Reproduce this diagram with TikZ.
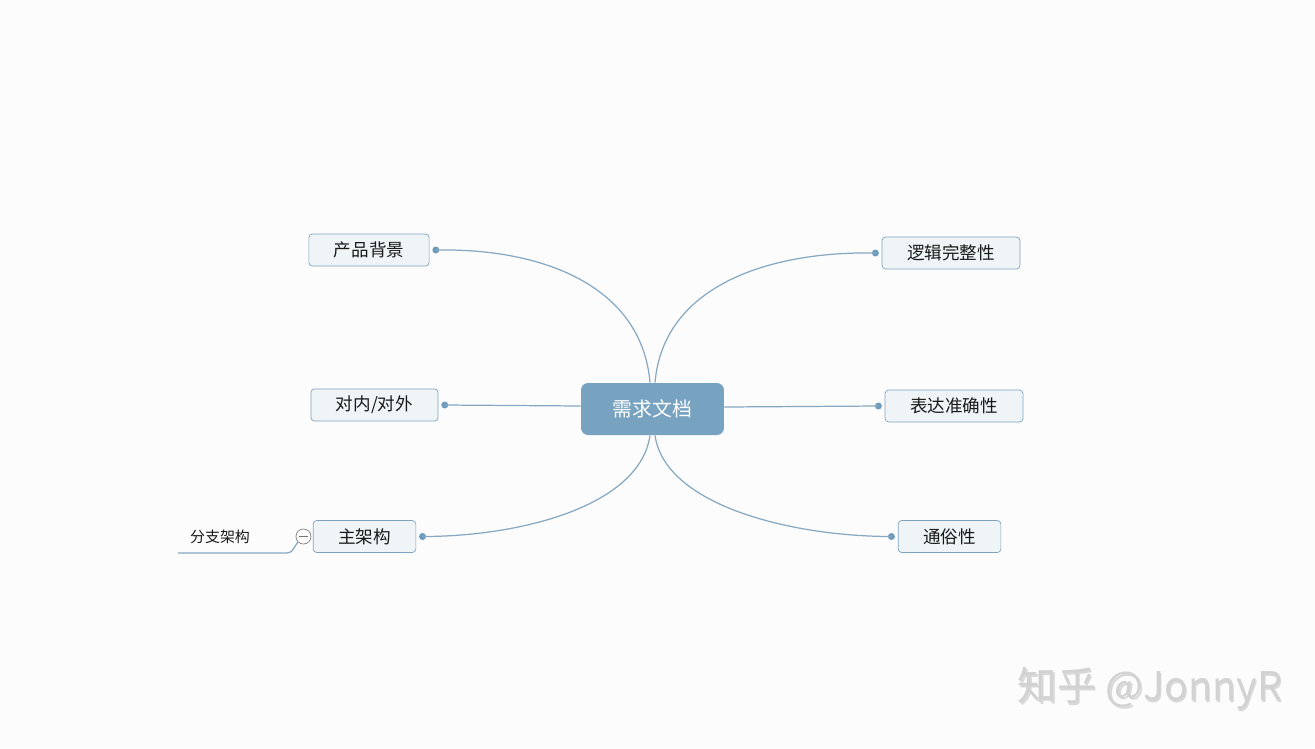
\documentclass[tikz,border=0pt]{standalone}
\usepackage{fontspec}
\setmainfont{Noto Sans CJK SC}
\usepackage{tikz}
\usetikzlibrary{positioning}

\definecolor{bgc}{HTML}{FCFCFC}
\definecolor{linec}{HTML}{86A8C2}
\definecolor{boxline}{HTML}{7FA3BF}
\definecolor{boxfill}{HTML}{EFF4F7}
\definecolor{rootfill}{HTML}{77A2C0}
\definecolor{dotc}{HTML}{6E9BBB}
\definecolor{markc}{HTML}{D2D2D2}

\begin{document}
\begin{tikzpicture}[
  x=0.02cm, y=-0.02cm,
  topic/.style={draw=boxline, fill=boxfill, rounded corners=2pt, inner xsep=0.5cm,
                minimum height=0.64cm, text=black!90, font=\fontsize{10}{12}\selectfont},
  root/.style={fill=rootfill, rounded corners=4pt, minimum width=2.86cm,
               minimum height=1.04cm, text=white, font=\fontsize{11.3}{13}\selectfont},
  dot/.style={circle, fill=dotc, inner sep=0pt, minimum size=0.14cm},
  link/.style={draw=linec, line width=0.7pt}
]
\fill[bgc] (0,0) rectangle (1315,748);

% centre
\node[root] (doc) at (652.5,409) {需求文档};

% left side
\node[topic] (bg) at (369,250) {产品背景};
\node[topic] (io) at (374.5,405) {对内/对外};
\node[topic] (main) at (364.5,536.5) {主架构};
\node[dot, right=0.05cm of bg] (bgd) {};
\node[dot, right=0.05cm of io] (iod) {};
\node[dot, right=0.05cm of main] (maind) {};

% right side
\node[topic] (logic) at (951,253) {逻辑完整性};
\node[topic] (exact) at (954,406) {表达准确性};
\node[topic] (plain) at (949.5,536.5) {通俗性};
\node[dot, left=0.05cm of logic] (logicd) {};
\node[dot, left=0.05cm of exact] (exactd) {};
\node[dot, left=0.05cm of plain] (plaind) {};

\draw[link] ([xshift=-0.05cm]doc.north) .. controls +(-8,-95) and +(110,-2) .. (bgd.center);
\draw[link] ([xshift=0.05cm]doc.north) .. controls +(8,-95) and +(-110,-2) .. (logicd.center);
\draw[link] ([xshift=-0.05cm]doc.south) .. controls +(-10,70) and +(100,0) .. (maind.center);
\draw[link] ([xshift=0.05cm]doc.south) .. controls +(10,70) and +(-100,0) .. (plaind.center);
\draw[link] ([yshift=0.06cm]doc.west) -- (iod.center);
\draw[link] ([yshift=0.04cm]doc.east) -- (exactd.center);

% collapsed branch
\node[circle, draw=black!50, fill=white, inner sep=0pt, minimum size=0.3cm,
      left=0.03cm of main] (fold) {};
\draw[black!55, line width=0.6pt] ([xshift=-0.09cm]fold.center) -- ([xshift=0.09cm]fold.center);
\coordinate (foldend) at (178,553);
\draw[link] (fold.225) .. controls +(-8,12) and +(12,0) .. (280,553) -- (foldend);
\node[font=\fontsize{8.5}{10}\selectfont, text=black!90] (sub) at (220,537) {分支架构};

% watermark
\node[font=\fontsize{22.5}{26}\selectfont, text=black!35, opacity=0.4] (wm0) at (1151.5,690) {知乎 @JonnyR};
\node[font=\fontsize{22.5}{26}\selectfont, text=markc] (wm) at (1150,688.5) {知乎 @JonnyR};
\end{tikzpicture}
\end{document}
